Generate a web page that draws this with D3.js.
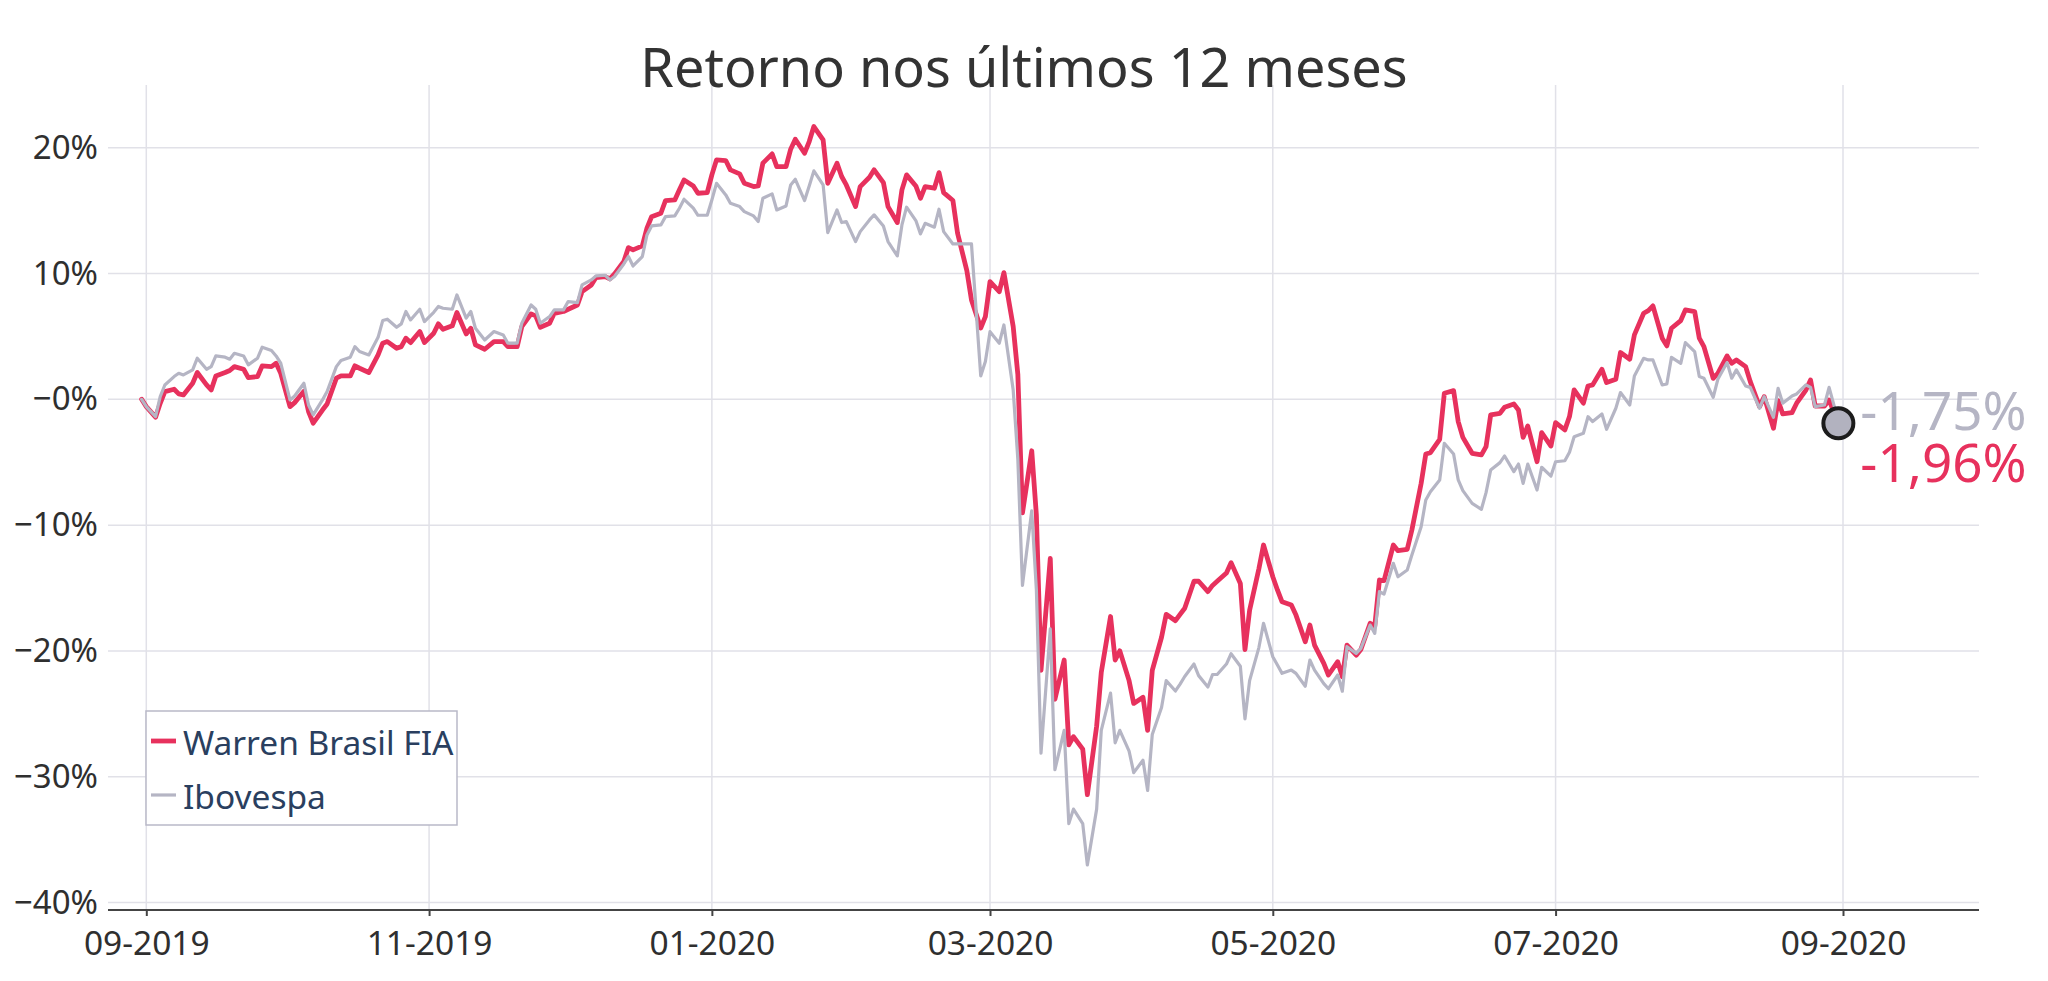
<!DOCTYPE html>
<html>
<head>
<meta charset="utf-8">
<script src="https://cdn.jsdelivr.net/npm/d3@7"></script>
<style>
  html, body { margin: 0; padding: 0; background: #ffffff; }
  svg { display: block; font-family: "Noto Sans", "Open Sans", sans-serif; }
</style>
</head>
<body>
<svg id="chart" width="2048" height="981"></svg>
<script>
// ---------------- DATA ----------------
const title = "Retorno nos últimos 12 meses";
const seriesNames = ["Warren Brasil FIA", "Ibovespa"];

const dates = [
"2019-08-31","2019-09-01","2019-09-03","2019-09-04","2019-09-05","2019-09-07","2019-09-08","2019-09-09","2019-09-11","2019-09-12",
"2019-09-14","2019-09-15","2019-09-16","2019-09-18","2019-09-19","2019-09-20","2019-09-22","2019-09-23","2019-09-25","2019-09-26",
"2019-09-28","2019-09-29","2019-09-30","2019-10-02","2019-10-03","2019-10-05","2019-10-06","2019-10-07","2019-10-09","2019-10-10",
"2019-10-12","2019-10-13","2019-10-15","2019-10-16","2019-10-17","2019-10-19","2019-10-21","2019-10-22","2019-10-23","2019-10-25",
"2019-10-26","2019-10-27","2019-10-28","2019-10-30","2019-10-31","2019-11-02","2019-11-03","2019-11-04","2019-11-06","2019-11-07",
"2019-11-09","2019-11-10","2019-11-11","2019-11-13","2019-11-15","2019-11-17","2019-11-18","2019-11-20","2019-11-21","2019-11-23",
"2019-11-24","2019-11-25","2019-11-27","2019-11-28","2019-11-30","2019-12-01","2019-12-03","2019-12-04","2019-12-06","2019-12-07",
"2019-12-09","2019-12-10","2019-12-11","2019-12-13","2019-12-14","2019-12-15","2019-12-17","2019-12-18","2019-12-19","2019-12-21",
"2019-12-22","2019-12-24","2019-12-25","2019-12-26","2019-12-28","2019-12-29","2019-12-31","2020-01-01","2020-01-02","2020-01-04",
"2020-01-05","2020-01-07","2020-01-08","2020-01-10","2020-01-11","2020-01-12","2020-01-14","2020-01-15","2020-01-17","2020-01-18",
"2020-01-19","2020-01-21","2020-01-22","2020-01-23","2020-01-25","2020-01-26","2020-01-28","2020-01-29","2020-01-30","2020-02-01",
"2020-02-02","2020-02-04","2020-02-05","2020-02-07","2020-02-08","2020-02-10","2020-02-11","2020-02-12","2020-02-14","2020-02-15",
"2020-02-16","2020-02-18","2020-02-19","2020-02-20","2020-02-22","2020-02-23","2020-02-25","2020-02-26","2020-02-28","2020-02-29",
"2020-03-01","2020-03-03","2020-03-04","2020-03-06","2020-03-07","2020-03-08","2020-03-10","2020-03-11","2020-03-12","2020-03-14",
"2020-03-15","2020-03-17","2020-03-18","2020-03-19","2020-03-21","2020-03-22","2020-03-24","2020-03-25","2020-03-27","2020-03-28",
"2020-03-29","2020-03-31","2020-04-01","2020-04-03","2020-04-04","2020-04-05","2020-04-07","2020-04-08","2020-04-10","2020-04-11",
"2020-04-12","2020-04-14","2020-04-15","2020-04-17","2020-04-18","2020-04-19","2020-04-21","2020-04-22","2020-04-24","2020-04-25",
"2020-04-26","2020-04-28","2020-04-29","2020-05-01","2020-05-02","2020-05-03","2020-05-05","2020-05-06","2020-05-08","2020-05-09",
"2020-05-10","2020-05-12","2020-05-13","2020-05-15","2020-05-16","2020-05-17","2020-05-19","2020-05-20","2020-05-22","2020-05-23",
"2020-05-24","2020-05-25","2020-05-27","2020-05-28","2020-05-30","2020-05-31","2020-06-02","2020-06-03","2020-06-04","2020-06-06",
"2020-06-07","2020-06-09","2020-06-10","2020-06-11","2020-06-13","2020-06-15","2020-06-16","2020-06-17","2020-06-19","2020-06-20",
"2020-06-22","2020-06-23","2020-06-24","2020-06-25","2020-06-27","2020-06-28","2020-06-30","2020-07-01","2020-07-03","2020-07-04",
"2020-07-05","2020-07-07","2020-07-08","2020-07-09","2020-07-11","2020-07-12","2020-07-14","2020-07-15","2020-07-17","2020-07-18",
"2020-07-20","2020-07-21","2020-07-22","2020-07-24","2020-07-25","2020-07-26","2020-07-28","2020-07-29","2020-07-31","2020-08-01",
"2020-08-02","2020-08-04","2020-08-05","2020-08-07","2020-08-08","2020-08-09","2020-08-11","2020-08-12","2020-08-14","2020-08-15",
"2020-08-17","2020-08-18","2020-08-19","2020-08-21","2020-08-22","2020-08-24","2020-08-25","2020-08-26","2020-08-28","2020-08-29",
"2020-08-31"
];

const warren = [
0.0,-0.58,-1.42,-0.31,0.61,0.8,0.43,0.35,1.28,2.13,
1.15,0.75,1.86,2.13,2.29,2.6,2.39,1.73,1.81,2.66,
2.6,2.87,2.07,-0.58,-0.26,0.64,-0.97,-1.9,-0.85,-0.37,
1.68,1.86,1.86,2.66,2.47,2.13,3.53,4.46,4.59,4.06,
4.19,4.86,4.51,5.39,4.51,5.25,6.0,5.57,5.84,6.9,
5.2,5.65,4.33,3.98,4.59,4.59,4.19,4.19,5.78,6.79,
6.63,5.73,6.05,6.84,6.98,7.16,7.5,8.56,9.09,9.68,
9.76,9.57,9.97,10.95,12.06,11.88,12.2,13.6,14.52,14.79,
15.8,15.85,16.65,17.44,16.96,16.38,16.43,17.84,19.03,18.98,
18.24,17.92,17.17,16.91,16.96,18.77,19.51,18.5,18.5,19.88,
20.67,19.56,20.49,21.68,20.62,17.17,18.77,17.71,17.04,15.32,
16.91,17.65,18.24,17.23,15.32,14.05,16.65,17.84,16.96,15.98,
16.91,16.78,18.02,16.43,15.8,13.2,10.23,7.9,5.67,6.57,
9.36,8.56,10.07,5.79,2.0,-9.03,-4.09,-9.19,-21.54,-12.65,
-23.84,-20.72,-27.47,-26.81,-27.8,-31.42,-25.98,-21.7,-17.26,-20.72,
-19.99,-22.36,-24.17,-23.68,-26.31,-21.54,-18.91,-17.09,-17.59,-17.09,
-16.6,-14.46,-14.46,-15.28,-14.79,-14.46,-13.8,-12.98,-14.63,-19.89,
-16.77,-13.47,-11.58,-14.1,-15.15,-16.09,-16.35,-17.15,-19.27,-17.94,
-19.53,-20.99,-21.91,-20.85,-22.05,-19.53,-20.33,-19.88,-17.8,-18.02,
-14.36,-14.41,-11.58,-12.03,-11.92,-10.39,-6.68,-4.35,-4.24,-3.18,
0.48,0.69,-1.77,-3.02,-4.29,-4.42,-3.76,-1.24,-1.11,-0.63,
-0.37,-0.85,-3.02,-2.12,-4.96,-2.65,-3.71,-1.85,-2.43,-1.37,
0.75,-0.31,1.06,1.15,2.39,1.33,1.6,3.72,3.19,5.12,
6.84,7.05,7.43,4.86,4.25,5.65,6.26,7.11,6.98,4.86,
4.19,1.67,2.07,3.45,2.87,3.13,2.6,1.41,-0.58,0.21,
-2.3,-0.1,-1.16,-1.06,-0.31,0.74,1.54,-0.53,-0.53,-0.05,
-1.96
];

const ibovespa = [
0.0,-0.58,-1.37,0.22,1.14,1.81,2.07,1.94,2.34,3.27,
2.39,2.6,3.45,3.35,3.19,3.66,3.45,2.74,3.27,4.14,
3.88,3.45,2.87,-0.05,0.27,1.28,-0.45,-1.24,-0.05,0.62,
2.6,3.08,3.35,4.19,3.8,3.53,4.93,6.26,6.37,5.73,
6.0,6.98,6.31,7.16,6.18,6.92,7.38,7.24,7.16,8.3,
6.45,6.98,5.65,4.72,5.39,5.12,4.46,4.46,6.05,7.5,
7.16,6.05,6.58,7.11,7.11,7.77,7.69,9.09,9.49,9.81,
9.86,9.49,9.76,10.76,11.35,10.6,11.35,13.07,13.78,13.86,
14.52,14.58,15.19,15.9,15.19,14.63,14.63,15.85,17.17,16.25,
15.58,15.32,14.92,14.58,14.13,15.98,16.33,15.05,15.37,17.04,
17.49,15.8,16.96,18.16,17.04,13.25,15.05,14.05,14.13,12.54,
13.33,14.26,14.66,13.78,12.54,11.4,13.86,15.27,14.21,13.15,
13.99,13.68,15.11,13.33,12.35,12.35,12.35,12.35,1.86,3.0,
5.38,4.46,5.91,0.74,-4.75,-14.79,-8.86,-15.12,-28.12,-18.25,
-29.44,-26.31,-33.72,-32.57,-33.72,-37.01,-32.57,-26.31,-23.35,-27.3,
-26.31,-27.96,-29.67,-28.68,-31.09,-26.64,-24.5,-22.36,-23.18,-22.63,
-22.03,-21.04,-21.96,-22.86,-21.87,-21.87,-21.04,-20.22,-21.21,-25.39,
-22.36,-19.73,-17.8,-20.46,-21.12,-21.78,-21.52,-21.78,-22.8,-20.72,
-21.52,-22.6,-23.0,-21.91,-23.2,-19.66,-20.19,-19.8,-17.94,-18.6,
-15.29,-15.47,-13.03,-14.1,-13.57,-12.37,-10.12,-8.0,-7.34,-6.41,
-3.49,-4.34,-6.41,-7.26,-8.27,-8.74,-7.42,-5.61,-5.03,-4.5,
-5.75,-5.14,-6.68,-5.14,-7.21,-5.4,-6.1,-4.96,-4.88,-4.2,
-2.97,-2.7,-1.38,-1.77,-1.16,-2.38,-0.71,0.54,-0.45,1.86,
3.26,3.13,3.13,1.14,1.22,3.34,2.86,4.51,3.79,1.81,
1.68,0.16,1.59,2.92,1.68,2.34,1.06,0.95,-0.71,0.21,
-1.43,0.88,-0.31,0.27,0.43,1.15,0.95,-0.58,-0.45,0.95,
-1.75
];

const yTickValues = [20, 10, 0, -10, -20, -30, -40];
const yTickLabels = ["20%", "10%", "\u22120%", "\u221210%", "\u221220%", "\u221230%", "\u221240%"];
const xTickDates = ["2019-09-01","2019-11-01","2020-01-01","2020-03-01","2020-05-01","2020-07-01","2020-09-01"];

// ---------------- STYLE / LAYOUT ----------------
const W = 2048, H = 981;
const plot = { left: 108, right: 1979, top: 85, bottom: 910 };
const colors = { warren: "#e7315d", ibov: "#b5b5c4", grid: "#e1e1e8", axis: "#444444", text: "#2f2f2f", legendText: "#2a3f5f" };
const FONT = '"Noto Sans", "Open Sans", sans-serif';

const parse = d3.timeParse("%Y-%m-%d");
const rows = dates.map((d, i) => ({ date: parse(d), w: warren[i], b: ibovespa[i] }));
const xTicks = xTickDates.map(parse);

const x = d3.scaleTime()
  .domain([parse("2019-09-01"), parse("2020-09-01")])
  .range([146.3, 1843]);
const y = d3.scaleLinear()
  .domain([-40, 20])
  .range([902.6, 147.7]);

const svg = d3.select("#chart");
svg.append("rect").attr("width", W).attr("height", H).attr("fill", "#ffffff");

// Gridlines
const grid = svg.append("g").attr("class", "grid");
grid.selectAll("line.h").data(yTickValues).join("line")
  .attr("class", "h")
  .attr("x1", plot.left).attr("x2", plot.right)
  .attr("y1", d => y(d)).attr("y2", d => y(d))
  .attr("stroke", colors.grid).attr("stroke-width", 1.5);
grid.selectAll("line.v").data(xTicks).join("line")
  .attr("class", "v")
  .attr("x1", d => x(d)).attr("x2", d => x(d))
  .attr("y1", plot.top).attr("y2", plot.bottom)
  .attr("stroke", colors.grid).attr("stroke-width", 1.5);

// Y axis labels
const yAxis = d3.axisLeft(y)
  .tickValues(yTickValues)
  .tickFormat((d, i) => yTickLabels[i])
  .tickSize(0)
  .tickPadding(10);
const gy = svg.append("g").attr("transform", `translate(${plot.left},0)`).call(yAxis);
gy.select(".domain").remove();
gy.selectAll("text")
  .attr("fill", colors.text)
  .style("font-family", FONT)
  .style("font-size", "33px");

// X axis
const xAxis = d3.axisBottom(x)
  .tickValues(xTicks)
  .tickFormat(d3.timeFormat("%m-%Y"))
  .tickSizeInner(6)
  .tickSizeOuter(0)
  .tickPadding(15);
const gx = svg.append("g").attr("transform", `translate(0,${plot.bottom})`).call(xAxis);
gx.select(".domain").attr("d", `M${plot.left},0H${plot.right}`).attr("stroke", colors.axis).attr("stroke-width", 2);
gx.selectAll(".tick line").attr("stroke", colors.axis).attr("stroke-width", 2);
gx.selectAll("text")
  .attr("fill", colors.text)
  .style("font-family", FONT)
  .style("font-size", "33.5px");

// Lines (Warren first, Ibovespa drawn on top)
const lineW = d3.line().x(d => x(d.date)).y(d => y(d.w));
const lineB = d3.line().x(d => x(d.date)).y(d => y(d.b));
svg.append("path").datum(rows)
  .attr("d", lineW).attr("fill", "none")
  .attr("stroke", colors.warren).attr("stroke-width", 4.8)
  .attr("stroke-linejoin", "round").attr("stroke-linecap", "round");
svg.append("path").datum(rows)
  .attr("d", lineB).attr("fill", "none")
  .attr("stroke", colors.ibov).attr("stroke-width", 3.2)
  .attr("stroke-linejoin", "round").attr("stroke-linecap", "round");

// End marker and labels (one text block, two coloured lines)
const last = rows[rows.length - 1];
const lx = x(last.date), ly = y(last.w);
svg.append("circle")
  .attr("cx", lx).attr("cy", ly - 0.7).attr("r", 15)
  .attr("fill", "#b2b2bf").attr("stroke", "#1c1c1c").attr("stroke-width", 4);
const fmt = v => d3.format(".2f")(v).replace(".", ",").replace("\u2212", "-") + "%";
const endLabel = svg.append("text")
  .attr("x", lx + 22).attr("y", y(last.b) + 9)
  .style("font-family", FONT).style("font-size", "53px");
endLabel.append("tspan")
  .attr("x", lx + 22)
  .attr("fill", colors.ibov)
  .text(fmt(last.b));
endLabel.append("tspan")
  .attr("x", lx + 22).attr("dy", 52)
  .attr("fill", colors.warren)
  .text(fmt(last.w));

// Title
svg.append("text")
  .attr("x", 1024).attr("y", 87)
  .attr("text-anchor", "middle")
  .attr("fill", "#333333")
  .style("font-family", FONT).style("font-size", "54px")
  .text(title);

// Legend
const leg = svg.append("g").attr("transform", "translate(146,711)");
leg.append("rect")
  .attr("width", 311).attr("height", 114)
  .attr("fill", "#ffffff").attr("stroke", "#b9b9c8").attr("stroke-width", 1.5);
const legItems = [
  { name: seriesNames[0], color: colors.warren, w: 4.8 },
  { name: seriesNames[1], color: colors.ibov, w: 3.2 }
];
const li = leg.selectAll("g.item").data(legItems).join("g")
  .attr("class", "item")
  .attr("transform", (d, i) => `translate(0,${30 + i * 54})`);
li.append("line")
  .attr("x1", 5).attr("x2", 30).attr("y1", 0).attr("y2", 0)
  .attr("stroke", d => d.color).attr("stroke-width", d => d.w);
li.append("text")
  .attr("x", 37).attr("y", 14)
  .attr("fill", colors.legendText)
  .style("font-family", FONT).style("font-size", "33.5px")
  .text(d => d.name);
</script>
</body>
</html>
